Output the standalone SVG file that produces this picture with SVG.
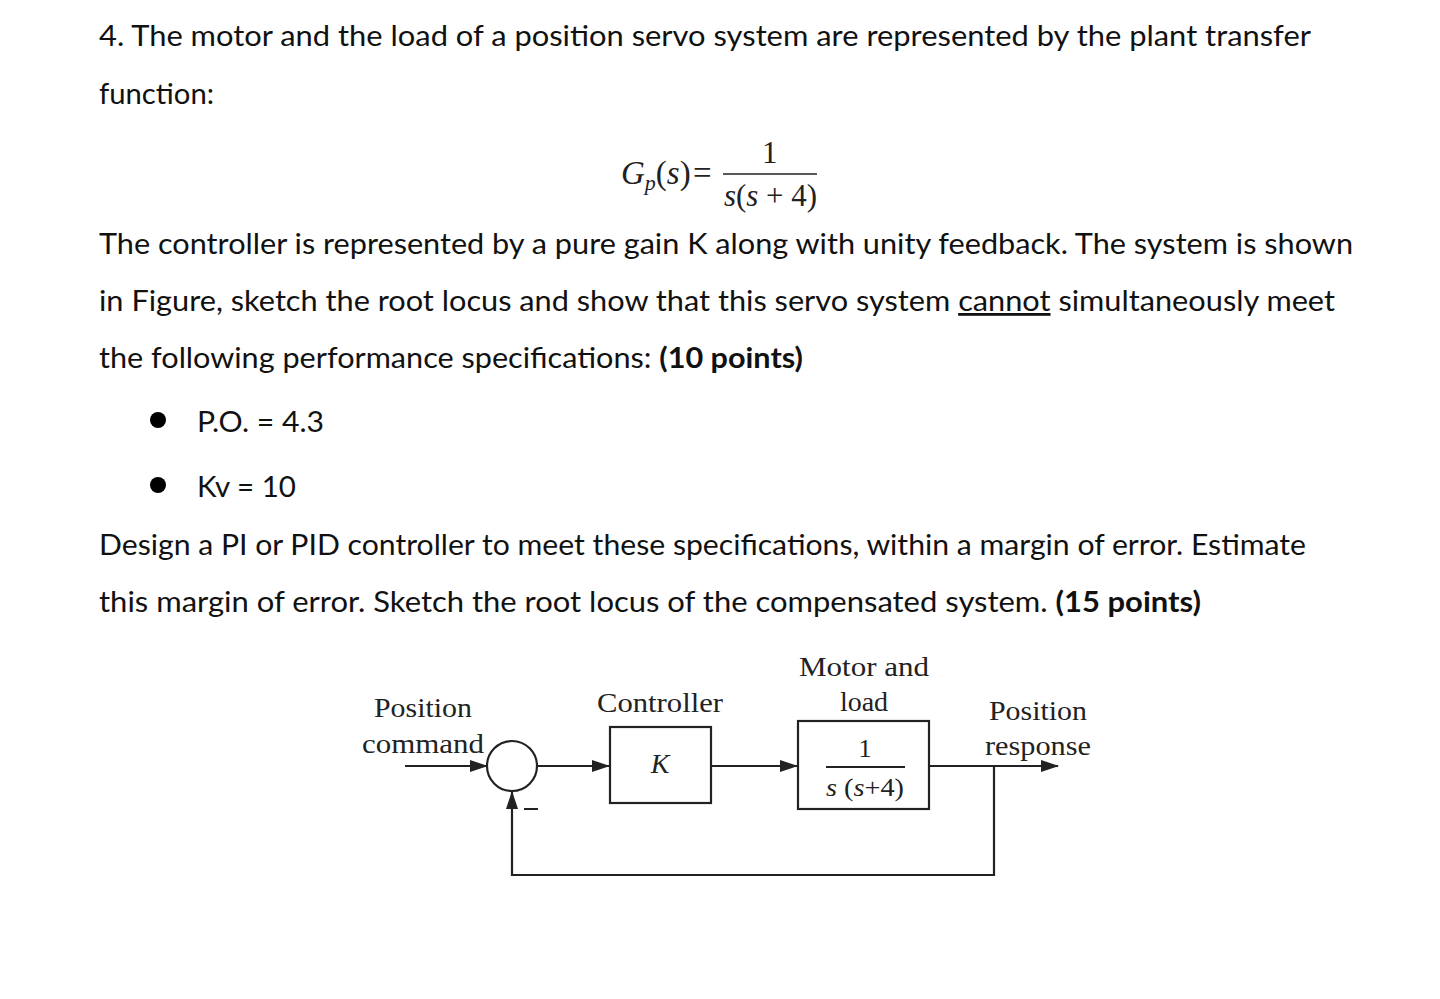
<svg xmlns="http://www.w3.org/2000/svg" width="1440" height="999" viewBox="0 0 1440 999">
<style>
.t{font-family:Lato,"Noto Sans",sans-serif;font-size:28px;fill:#111}
.b{font-weight:bold}
.s{font-family:"Liberation Serif",serif;font-size:28px;fill:#222}
.l{stroke:#222;stroke-width:2.2;fill:none}
</style>
<defs>
<marker id="a2" markerWidth="18" markerHeight="12" refX="17" refY="6" orient="auto" markerUnits="userSpaceOnUse" viewBox="0 0 18 12"><path d="M0,0L18,6L0,12z" fill="#222"/></marker></defs>
<rect width="1440" height="999" fill="#fff"/>
<text class="t" x="99" y="46" textLength="1212" lengthAdjust="spacingAndGlyphs">4. The motor and the load of a position servo system are represented by the plant transfer</text>
<text class="t" x="99" y="104" textLength="115" lengthAdjust="spacingAndGlyphs">function:</text>
<g id="eq">
<text class="s" x="621" y="184" style="font-size:33px"><tspan font-style="italic">G</tspan><tspan font-style="italic" style="font-size:22px" dy="6">p</tspan><tspan dy="-6">(</tspan><tspan font-style="italic">s</tspan>)</text>
<text class="s" x="693" y="184" style="font-size:33px">=</text>
<text class="s" x="762" y="163" style="font-size:31px">1</text>
<line x1="723" y1="174" x2="817" y2="174" stroke="#222" stroke-width="1.5"/>
<text class="s" x="724" y="206" style="font-size:31px" textLength="93" lengthAdjust="spacingAndGlyphs"><tspan font-style="italic">s</tspan>(<tspan font-style="italic">s</tspan> + 4)</text>
</g>
<text class="t" x="99" y="254" textLength="1254" lengthAdjust="spacingAndGlyphs">The controller is represented by a pure gain K along with unity feedback. The system is shown</text>
<text class="t" x="99" y="311" textLength="1236" lengthAdjust="spacingAndGlyphs">in Figure, sketch the root locus and show that this servo system <tspan text-decoration="underline">cannot</tspan> simultaneously meet</text>
<text class="t" x="99" y="368" textLength="704" lengthAdjust="spacingAndGlyphs">the following performance specifications: <tspan class="b">(10 points)</tspan></text>
<circle cx="158" cy="420" r="8" fill="#000"/>
<text class="t" x="197" y="432" textLength="127" lengthAdjust="spacingAndGlyphs">P.O. = 4.3</text>
<circle cx="158" cy="485" r="8" fill="#000"/>
<text class="t" x="197" y="497" textLength="99" lengthAdjust="spacingAndGlyphs">Kv = 10</text>
<text class="t" x="99" y="555" textLength="1207" lengthAdjust="spacingAndGlyphs">Design a PI or PID controller to meet these specifications, within a margin of error. Estimate</text>
<text class="t" x="99" y="612" textLength="1102" lengthAdjust="spacingAndGlyphs">this margin of error. Sketch the root locus of the compensated system. <tspan class="b">(15 points)</tspan></text>
<g id="sum"><circle class="l" cx="512" cy="766" r="25"/></g>
<g id="ctrl"><rect class="l" x="610" y="727" width="101" height="76"/><text class="s" x="660" y="773" text-anchor="middle" font-style="italic">K</text></g>
<g id="plant"><rect class="l" x="798" y="721" width="131" height="88"/><text class="s" x="865" y="757" text-anchor="middle" style="font-size:26px">1</text><line x1="826" y1="767" x2="905" y2="767" stroke="#222" stroke-width="2"/><text class="s" x="865" y="796" text-anchor="middle" style="font-size:26px" textLength="78" lengthAdjust="spacingAndGlyphs"><tspan font-style="italic">s</tspan> (<tspan font-style="italic">s</tspan>+4)</text></g>
<g id="labels">
<text class="s" x="423" y="717" text-anchor="middle" textLength="98" lengthAdjust="spacingAndGlyphs">Position</text>
<text class="s" x="423" y="753" text-anchor="middle" textLength="122" lengthAdjust="spacingAndGlyphs">command</text>
<text class="s" x="660" y="712" text-anchor="middle" textLength="126" lengthAdjust="spacingAndGlyphs">Controller</text>
<text class="s" x="864" y="676" text-anchor="middle" textLength="130" lengthAdjust="spacingAndGlyphs">Motor and</text>
<text class="s" x="864" y="711" text-anchor="middle">load</text>
<text class="s" x="1038" y="720" text-anchor="middle" textLength="98" lengthAdjust="spacingAndGlyphs">Position</text>
<text class="s" x="1038" y="755" text-anchor="middle" textLength="106" lengthAdjust="spacingAndGlyphs">response</text>
<line x1="524" y1="809" x2="538" y2="809" stroke="#222" stroke-width="2"/>
</g>
<g id="connectors">
<line class="l" x1="405" y1="766" x2="487" y2="766" marker-end="url(#a2)"/>
<line class="l" x1="537" y1="766" x2="609" y2="766" marker-end="url(#a2)"/>
<line class="l" x1="711" y1="766" x2="797" y2="766" marker-end="url(#a2)"/>
<line class="l" x1="929" y1="766" x2="1058" y2="766" marker-end="url(#a2)"/>
<polyline class="l" points="994,766 994,875 512,875 512,792" marker-end="url(#a2)"/>
</g>
</svg>
